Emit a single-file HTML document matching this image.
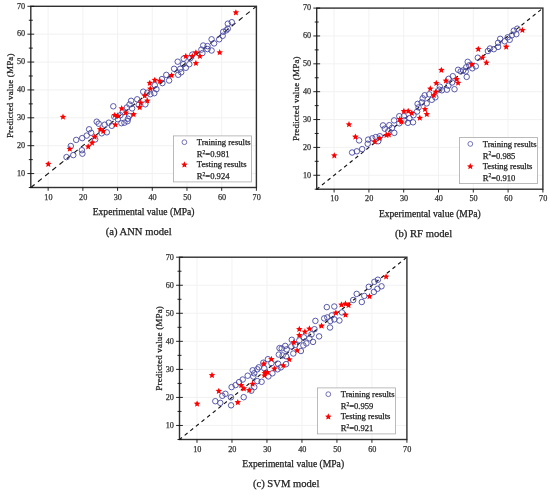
<!DOCTYPE html>
<html><head><meta charset="utf-8"><style>
html,body{margin:0;padding:0;background:#fff;}
svg{display:block;}
text{font-family:"Liberation Serif","Times New Roman",serif;}
</style></head><body>
<svg width="550" height="495" viewBox="0 0 550 495">
<rect width="550" height="495" fill="#fff"/>
<path d="M48.15 6.3V187.5M30.8 173.56H256.4M82.86 6.3V187.5M30.8 145.68H256.4M117.57 6.3V187.5M30.8 117.81H256.4M152.28 6.3V187.5M30.8 89.93H256.4M186.98 6.3V187.5M30.8 62.05H256.4M221.69 6.3V187.5M30.8 34.18H256.4" stroke="#f0f0f0" stroke-width="0.9" fill="none"/>
<path d="M30.8 187.5L256.4 6.3" stroke="#111" stroke-width="1.15" stroke-dasharray="4.9 4.3" stroke-dashoffset="0" fill="none"/>
<g fill="none" stroke="#4848a2" stroke-width="0.9"><circle cx="66.5" cy="157.1" r="2.75"/><circle cx="73.3" cy="155.1" r="2.75"/><circle cx="70.8" cy="146" r="2.75"/><circle cx="76.2" cy="139.9" r="2.75"/><circle cx="82.2" cy="138.1" r="2.75"/><circle cx="86.7" cy="135.6" r="2.75"/><circle cx="81.9" cy="150.2" r="2.75"/><circle cx="82.4" cy="153.7" r="2.75"/><circle cx="113.3" cy="106.3" r="2.75"/><circle cx="89.1" cy="129.3" r="2.75"/><circle cx="91.1" cy="132.8" r="2.75"/><circle cx="96.7" cy="121.7" r="2.75"/><circle cx="98.7" cy="123.7" r="2.75"/><circle cx="101.7" cy="133.3" r="2.75"/><circle cx="104.7" cy="124.7" r="2.75"/><circle cx="106.8" cy="132.3" r="2.75"/><circle cx="108.8" cy="122.7" r="2.75"/><circle cx="111.8" cy="125.8" r="2.75"/><circle cx="114.3" cy="116.7" r="2.75"/><circle cx="117.9" cy="119.2" r="2.75"/><circle cx="120.4" cy="115.2" r="2.75"/><circle cx="121.4" cy="123.2" r="2.75"/><circle cx="124.4" cy="122.7" r="2.75"/><circle cx="122.7" cy="112.2" r="2.75"/><circle cx="126.8" cy="107.5" r="2.75"/><circle cx="128" cy="118.7" r="2.75"/><circle cx="127.5" cy="121.2" r="2.75"/><circle cx="129.5" cy="104.5" r="2.75"/><circle cx="95.2" cy="139.4" r="2.75"/><circle cx="131.1" cy="100.8" r="2.75"/><circle cx="132.1" cy="108.4" r="2.75"/><circle cx="129.1" cy="116" r="2.75"/><circle cx="137.2" cy="99.3" r="2.75"/><circle cx="138.7" cy="104.8" r="2.75"/><circle cx="143.2" cy="91.7" r="2.75"/><circle cx="145.3" cy="104.3" r="2.75"/><circle cx="147.3" cy="92.7" r="2.75"/><circle cx="150.3" cy="94.2" r="2.75"/><circle cx="154.3" cy="93.2" r="2.75"/><circle cx="154.8" cy="85.2" r="2.75"/><circle cx="156.4" cy="89.2" r="2.75"/><circle cx="161.9" cy="79.1" r="2.75"/><circle cx="162.4" cy="83.1" r="2.75"/><circle cx="166.3" cy="74.9" r="2.75"/><circle cx="169.1" cy="80.5" r="2.75"/><circle cx="174.1" cy="68.8" r="2.75"/><circle cx="177.7" cy="61.7" r="2.75"/><circle cx="178.2" cy="74.8" r="2.75"/><circle cx="180.2" cy="68.8" r="2.75"/><circle cx="181.2" cy="72.3" r="2.75"/><circle cx="183.2" cy="64.2" r="2.75"/><circle cx="183.7" cy="58.7" r="2.75"/><circle cx="185.8" cy="67.8" r="2.75"/><circle cx="189.3" cy="64.2" r="2.75"/><circle cx="190.3" cy="58.2" r="2.75"/><circle cx="192.3" cy="54.6" r="2.75"/><circle cx="201.4" cy="49.6" r="2.75"/><circle cx="202.4" cy="53.1" r="2.75"/><circle cx="203.2" cy="45.5" r="2.75"/><circle cx="207.5" cy="46.1" r="2.75"/><circle cx="207.5" cy="49.1" r="2.75"/><circle cx="211.6" cy="50.5" r="2.75"/><circle cx="211.6" cy="39.3" r="2.75"/><circle cx="214.1" cy="43.4" r="2.75"/><circle cx="219.2" cy="39.3" r="2.75"/><circle cx="222.7" cy="35.8" r="2.75"/><circle cx="223.2" cy="31.8" r="2.75"/><circle cx="226.3" cy="30.3" r="2.75"/><circle cx="227.8" cy="28.7" r="2.75"/><circle cx="227.8" cy="23.7" r="2.75"/><circle cx="231.8" cy="22.2" r="2.75"/></g>
<path d="M48.3,160.65L49.23,162.82L51.58,163.03L49.81,164.59L50.33,166.89L48.3,165.69L46.27,166.89L46.79,164.59L45.02,163.03L47.37,162.82ZM63,113.55L63.93,115.72L66.28,115.93L64.51,117.49L65.03,119.79L63,118.59L60.97,119.79L61.49,117.49L59.72,115.93L62.07,115.72ZM69.8,145.55L70.73,147.72L73.08,147.93L71.31,149.49L71.83,151.79L69.8,150.59L67.77,151.79L68.29,149.49L66.52,147.93L68.87,147.72ZM88.2,143.15L89.13,145.32L91.48,145.53L89.71,147.09L90.23,149.39L88.2,148.19L86.17,149.39L86.69,147.09L84.92,145.53L87.27,145.32ZM92.1,139.45L93.03,141.62L95.38,141.83L93.61,143.39L94.13,145.69L92.1,144.49L90.07,145.69L90.59,143.39L88.82,141.83L91.17,141.62ZM94.6,133.45L95.53,135.62L97.88,135.83L96.11,137.39L96.63,139.69L94.6,138.49L92.57,139.69L93.09,137.39L91.32,135.83L93.67,135.62ZM100.2,125.85L101.13,128.02L103.48,128.23L101.71,129.79L102.23,132.09L100.2,130.89L98.17,132.09L98.69,129.79L96.92,128.23L99.27,128.02ZM103.2,127.85L104.13,130.02L106.48,130.23L104.71,131.79L105.23,134.09L103.2,132.89L101.17,134.09L101.69,131.79L99.92,130.23L102.27,130.02ZM114.8,111.75L115.73,113.92L118.08,114.13L116.31,115.69L116.83,117.99L114.8,116.79L112.77,117.99L113.29,115.69L111.52,114.13L113.87,113.92ZM117.4,112.25L118.33,114.42L120.68,114.63L118.91,116.19L119.43,118.49L117.4,117.29L115.37,118.49L115.89,116.19L114.12,114.63L116.47,114.42ZM115.4,121.25L116.33,123.42L118.68,123.63L116.91,125.19L117.43,127.49L115.4,126.29L113.37,127.49L113.89,125.19L112.12,123.63L114.47,123.42ZM121.7,105.05L122.63,107.22L124.98,107.43L123.21,108.99L123.73,111.29L121.7,110.09L119.67,111.29L120.19,108.99L118.42,107.43L120.77,107.22ZM125.8,109.35L126.73,111.52L129.08,111.73L127.31,113.29L127.83,115.59L125.8,114.39L123.77,115.59L124.29,113.29L122.52,111.73L124.87,111.52ZM133.6,110.95L134.53,113.12L136.88,113.33L135.11,114.89L135.63,117.19L133.6,115.99L131.57,117.19L132.09,114.89L130.32,113.33L132.67,113.12ZM139.7,103.95L140.63,106.12L142.98,106.33L141.21,107.89L141.73,110.19L139.7,108.99L137.67,110.19L138.19,107.89L136.42,106.33L138.77,106.12ZM140.7,99.35L141.63,101.52L143.98,101.73L142.21,103.29L142.73,105.59L140.7,104.39L138.67,105.59L139.19,103.29L137.42,101.73L139.77,101.52ZM144.7,92.35L145.63,94.52L147.98,94.73L146.21,96.29L146.73,98.59L144.7,97.39L142.67,98.59L143.19,96.29L141.42,94.73L143.77,94.52ZM147.3,97.35L148.23,99.52L150.58,99.73L148.81,101.29L149.33,103.59L147.3,102.39L145.27,103.59L145.79,101.29L144.02,99.73L146.37,99.52ZM149.8,79.65L150.73,81.82L153.08,82.03L151.31,83.59L151.83,85.89L149.8,84.69L147.77,85.89L148.29,83.59L146.52,82.03L148.87,81.82ZM150.3,85.25L151.23,87.42L153.58,87.63L151.81,89.19L152.33,91.49L150.3,90.29L148.27,91.49L148.79,89.19L147.02,87.63L149.37,87.42ZM154.8,76.65L155.73,78.82L158.08,79.03L156.31,80.59L156.83,82.89L154.8,81.69L152.77,82.89L153.29,80.59L151.52,79.03L153.87,78.82ZM159.9,77.65L160.83,79.82L163.18,80.03L161.41,81.59L161.93,83.89L159.9,82.69L157.87,83.89L158.39,81.59L156.62,80.03L158.97,79.82ZM171.6,71.95L172.53,74.12L174.88,74.33L173.11,75.89L173.63,78.19L171.6,76.99L169.57,78.19L170.09,75.89L168.32,74.33L170.67,74.12ZM185.8,52.75L186.73,54.92L189.08,55.13L187.31,56.69L187.83,58.99L185.8,57.79L183.77,58.99L184.29,56.69L182.52,55.13L184.87,54.92ZM192.3,52.75L193.23,54.92L195.58,55.13L193.81,56.69L194.33,58.99L192.3,57.79L190.27,58.99L190.79,56.69L189.02,55.13L191.37,54.92ZM195.9,49.15L196.83,51.32L199.18,51.53L197.41,53.09L197.93,55.39L195.9,54.19L193.87,55.39L194.39,53.09L192.62,51.53L194.97,51.32ZM199.9,52.75L200.83,54.92L203.18,55.13L201.41,56.69L201.93,58.99L199.9,57.79L197.87,58.99L198.39,56.69L196.62,55.13L198.97,54.92ZM195.9,59.75L196.83,61.92L199.18,62.13L197.41,63.69L197.93,65.99L195.9,64.79L193.87,65.99L194.39,63.69L192.62,62.13L194.97,61.92ZM235.9,9.15L236.83,11.32L239.18,11.53L237.41,13.09L237.93,15.39L235.9,14.19L233.87,15.39L234.39,13.09L232.62,11.53L234.97,11.32ZM219.7,49.05L220.63,51.22L222.98,51.43L221.21,52.99L221.73,55.29L219.7,54.09L217.67,55.29L218.19,52.99L216.42,51.43L218.77,51.22Z" fill="#ff0000"/>
<rect x="30.8" y="6.3" width="225.6" height="181.2" fill="none" stroke="#303030" stroke-width="1.4"/>
<path d="M28.8 187.5H32.8M27.4 173.56H34.2M48.15 187.5V190.8M28.8 159.62H32.8M27.4 145.68H34.2M82.86 187.5V190.8M28.8 131.75H32.8M27.4 117.81H34.2M117.57 187.5V190.8M28.8 103.87H32.8M27.4 89.93H34.2M152.28 187.5V190.8M28.8 75.99H32.8M27.4 62.05H34.2M186.98 187.5V190.8M28.8 48.12H32.8M27.4 34.18H34.2M221.69 187.5V190.8M28.8 20.24H32.8M27.4 6.3H34.2M256.4 187.5V190.8" stroke="#111" stroke-width="0.9" fill="none"/>
<g font-size="8.2" fill="#333" stroke="#333" stroke-width="0.25"><text x="25.2" y="175.86" text-anchor="end">10</text><text x="48.45" y="199.5" text-anchor="middle">10</text><text x="25.2" y="147.98" text-anchor="end">20</text><text x="83.16" y="199.5" text-anchor="middle">20</text><text x="25.2" y="120.11" text-anchor="end">30</text><text x="117.87" y="199.5" text-anchor="middle">30</text><text x="25.2" y="92.23" text-anchor="end">40</text><text x="152.58" y="199.5" text-anchor="middle">40</text><text x="25.2" y="64.35" text-anchor="end">50</text><text x="187.28" y="199.5" text-anchor="middle">50</text><text x="25.2" y="36.48" text-anchor="end">60</text><text x="221.99" y="199.5" text-anchor="middle">60</text><text x="25.2" y="8.6" text-anchor="end">70</text><text x="256.7" y="199.5" text-anchor="middle">70</text></g>
<text x="143.6" y="215" text-anchor="middle" font-size="9.6" fill="#222" stroke="#222" stroke-width="0.25">Experimental value (MPa)</text>
<text transform="translate(12.8 95.7) rotate(-90)" text-anchor="middle" font-size="9.0" letter-spacing="0.18" fill="#222" stroke="#222" stroke-width="0.25">Predicted value (MPa)</text>
<rect x="173.5" y="135.9" width="78" height="46" fill="#fff" stroke="#aaa" stroke-width="0.8"/>
<circle cx="184.4" cy="142.2" r="2.4" fill="none" stroke="#4848a2" stroke-width="0.75"/>
<path d="M184.4,161.35L185.33,163.52L187.68,163.73L185.91,165.29L186.43,167.59L184.4,166.39L182.37,167.59L182.89,165.29L181.12,163.73L183.47,163.52Z" fill="#ff0000"/>
<g font-size="8.6" fill="#222" stroke="#222" stroke-width="0.25"><text x="196.8" y="145.2">Training results</text><text x="196.8" y="156.9">R<tspan font-size="5.6" dy="-3.4">2</tspan><tspan dy="3.4">=0.981</tspan></text><text x="196.8" y="167.2">Testing results</text><text x="196.8" y="178.9">R<tspan font-size="5.6" dy="-3.4">2</tspan><tspan dy="3.4">=0.924</tspan></text></g>
<text x="138.7" y="235.3" text-anchor="middle" font-size="10.6" fill="#222" stroke="#222" stroke-width="0.25">(a) ANN model</text>
<path d="M334.1 8.1V189.2M316.7 175.27H542.9M368.9 8.1V189.2M316.7 147.41H542.9M403.7 8.1V189.2M316.7 119.55H542.9M438.5 8.1V189.2M316.7 91.68H542.9M473.3 8.1V189.2M316.7 63.82H542.9M508.1 8.1V189.2M316.7 35.96H542.9" stroke="#f0f0f0" stroke-width="0.9" fill="none"/>
<path d="M316.7 189.2L542.9 8.1" stroke="#111" stroke-width="1.15" stroke-dasharray="3.7 3.4" stroke-dashoffset="0.3" fill="none"/>
<g fill="none" stroke="#4848a2" stroke-width="0.9"><circle cx="352.1" cy="152.5" r="2.75"/><circle cx="356.8" cy="151.3" r="2.75"/><circle cx="362.2" cy="149.1" r="2.75"/><circle cx="359.1" cy="140.4" r="2.75"/><circle cx="367.7" cy="143.8" r="2.75"/><circle cx="368.2" cy="139.6" r="2.75"/><circle cx="372.3" cy="138.3" r="2.75"/><circle cx="375.7" cy="137.1" r="2.75"/><circle cx="378.2" cy="141.2" r="2.75"/><circle cx="383" cy="125.4" r="2.75"/><circle cx="384.8" cy="128.7" r="2.75"/><circle cx="389.3" cy="125.2" r="2.75"/><circle cx="388.3" cy="131.1" r="2.75"/><circle cx="392.1" cy="127.9" r="2.75"/><circle cx="394.1" cy="120.4" r="2.75"/><circle cx="394.3" cy="132.9" r="2.75"/><circle cx="399.3" cy="116.2" r="2.75"/><circle cx="399.3" cy="123.3" r="2.75"/><circle cx="403.9" cy="116.2" r="2.75"/><circle cx="404.4" cy="120.3" r="2.75"/><circle cx="407.9" cy="122.8" r="2.75"/><circle cx="409.4" cy="118.2" r="2.75"/><circle cx="413" cy="122.3" r="2.75"/><circle cx="413.5" cy="115.2" r="2.75"/><circle cx="379.8" cy="136.2" r="2.75"/><circle cx="417.1" cy="111.5" r="2.75"/><circle cx="418.6" cy="107.4" r="2.75"/><circle cx="417.6" cy="103.9" r="2.75"/><circle cx="421.7" cy="102.4" r="2.75"/><circle cx="422.7" cy="98.3" r="2.75"/><circle cx="424.7" cy="95.3" r="2.75"/><circle cx="426.7" cy="103.4" r="2.75"/><circle cx="429.2" cy="94.3" r="2.75"/><circle cx="431.8" cy="99.8" r="2.75"/><circle cx="435.3" cy="97.3" r="2.75"/><circle cx="439.8" cy="86.7" r="2.75"/><circle cx="439.3" cy="89.7" r="2.75"/><circle cx="441.9" cy="90.3" r="2.75"/><circle cx="446.9" cy="89.7" r="2.75"/><circle cx="448.4" cy="85.7" r="2.75"/><circle cx="448.7" cy="78.8" r="2.75"/><circle cx="452.8" cy="76.2" r="2.75"/><circle cx="454.5" cy="89.2" r="2.75"/><circle cx="477.8" cy="57.7" r="2.75"/><circle cx="487.9" cy="51" r="2.75"/><circle cx="490" cy="48.5" r="2.75"/><circle cx="493.8" cy="49.2" r="2.75"/><circle cx="467.7" cy="61.8" r="2.75"/><circle cx="469.2" cy="65.3" r="2.75"/><circle cx="475.8" cy="66.3" r="2.75"/><circle cx="472.3" cy="68.3" r="2.75"/><circle cx="466.2" cy="67.3" r="2.75"/><circle cx="463.2" cy="70.4" r="2.75"/><circle cx="458.1" cy="69.8" r="2.75"/><circle cx="460.7" cy="71.4" r="2.75"/><circle cx="465.7" cy="71.4" r="2.75"/><circle cx="466.7" cy="76.9" r="2.75"/><circle cx="452.1" cy="82.5" r="2.75"/><circle cx="498.1" cy="46.9" r="2.75"/><circle cx="498.1" cy="42.8" r="2.75"/><circle cx="500.2" cy="38.8" r="2.75"/><circle cx="504.7" cy="41.3" r="2.75"/><circle cx="507.7" cy="37.3" r="2.75"/><circle cx="509.7" cy="39.8" r="2.75"/><circle cx="511.8" cy="35.3" r="2.75"/><circle cx="513.8" cy="30.7" r="2.75"/><circle cx="516.3" cy="34.2" r="2.75"/><circle cx="517.3" cy="28.7" r="2.75"/></g>
<path d="M334.3,152.15L335.23,154.32L337.58,154.53L335.81,156.09L336.33,158.39L334.3,157.19L332.27,158.39L332.79,156.09L331.02,154.53L333.37,154.32ZM349,121.05L349.93,123.22L352.28,123.43L350.51,124.99L351.03,127.29L349,126.09L346.97,127.29L347.49,124.99L345.72,123.43L348.07,123.22ZM355.4,133.45L356.33,135.62L358.68,135.83L356.91,137.39L357.43,139.69L355.4,138.49L353.37,139.69L353.89,137.39L352.12,135.83L354.47,135.62ZM374.8,138.35L375.73,140.52L378.08,140.73L376.31,142.29L376.83,144.59L374.8,143.39L372.77,144.59L373.29,142.29L371.52,140.73L373.87,140.52ZM379.8,134.75L380.73,136.92L383.08,137.13L381.31,138.69L381.83,140.99L379.8,139.79L377.77,140.99L378.29,138.69L376.52,137.13L378.87,136.92ZM386.4,131.75L387.33,133.92L389.68,134.13L387.91,135.69L388.43,137.99L386.4,136.79L384.37,137.99L384.89,135.69L383.12,134.13L385.47,133.92ZM388.9,131.25L389.83,133.42L392.18,133.63L390.41,135.19L390.93,137.49L388.9,136.29L386.87,137.49L387.39,135.19L385.62,133.63L387.97,133.42ZM399.8,115.75L400.73,117.92L403.08,118.13L401.31,119.69L401.83,121.99L399.8,120.79L397.77,121.99L398.29,119.69L396.52,118.13L398.87,117.92ZM401.4,118.35L402.33,120.52L404.68,120.73L402.91,122.29L403.43,124.59L401.4,123.39L399.37,124.59L399.89,122.29L398.12,120.73L400.47,120.52ZM403.9,107.75L404.83,109.92L407.18,110.13L405.41,111.69L405.93,113.99L403.9,112.79L401.87,113.99L402.39,111.69L400.62,110.13L402.97,109.92ZM408.2,107.65L409.13,109.82L411.48,110.03L409.71,111.59L410.23,113.89L408.2,112.69L406.17,113.89L406.69,111.59L404.92,110.03L407.27,109.82ZM411.8,109.65L412.73,111.82L415.08,112.03L413.31,113.59L413.83,115.89L411.8,114.69L409.77,115.89L410.29,113.59L408.52,112.03L410.87,111.82ZM441.4,66.65L442.33,68.82L444.68,69.03L442.91,70.59L443.43,72.89L441.4,71.69L439.37,72.89L439.89,70.59L438.12,69.03L440.47,68.82ZM445.9,77.35L446.83,79.52L449.18,79.73L447.41,81.29L447.93,83.59L445.9,82.39L443.87,83.59L444.39,81.29L442.62,79.73L444.97,79.52ZM436.3,79.75L437.23,81.92L439.58,82.13L437.81,83.69L438.33,85.99L436.3,84.79L434.27,85.99L434.79,83.69L433.02,82.13L435.37,81.92ZM430.3,85.25L431.23,87.42L433.58,87.63L431.81,89.19L432.33,91.49L430.3,90.29L428.27,91.49L428.79,89.19L427.02,87.63L429.37,87.42ZM435.8,88.35L436.73,90.52L439.08,90.73L437.31,92.29L437.83,94.59L435.8,93.39L433.77,94.59L434.29,92.29L432.52,90.73L434.87,90.52ZM433.8,91.85L434.73,94.02L437.08,94.23L435.31,95.79L435.83,98.09L433.8,96.89L431.77,98.09L432.29,95.79L430.52,94.23L432.87,94.02ZM425,105.85L425.93,108.02L428.28,108.23L426.51,109.79L427.03,112.09L425,110.89L422.97,112.09L423.49,109.79L421.72,108.23L424.07,108.02ZM426.8,110.85L427.73,113.02L430.08,113.23L428.31,114.79L428.83,117.09L426.8,115.89L424.77,117.09L425.29,114.79L423.52,113.23L425.87,113.02ZM419.8,114.55L420.73,116.72L423.08,116.93L421.31,118.49L421.83,120.79L419.8,119.59L417.77,120.79L418.29,118.49L416.52,116.93L418.87,116.72ZM478.3,45.65L479.23,47.82L481.58,48.03L479.81,49.59L480.33,51.89L478.3,50.69L476.27,51.89L476.79,49.59L475.02,48.03L477.37,47.82ZM482.4,54.25L483.33,56.42L485.68,56.63L483.91,58.19L484.43,60.49L482.4,59.29L480.37,60.49L480.89,58.19L479.12,56.63L481.47,56.42ZM486.4,59.35L487.33,61.52L489.68,61.73L487.91,63.29L488.43,65.59L486.4,64.39L484.37,65.59L484.89,63.29L483.12,61.73L485.47,61.52ZM471.8,60.85L472.73,63.02L475.08,63.23L473.31,64.79L473.83,67.09L471.8,65.89L469.77,67.09L470.29,64.79L468.52,63.23L470.87,63.02ZM456.6,75.95L457.53,78.12L459.88,78.33L458.11,79.89L458.63,82.19L456.6,80.99L454.57,82.19L455.09,79.89L453.32,78.33L455.67,78.12ZM458.1,79.55L459.03,81.72L461.38,81.93L459.61,83.49L460.13,85.79L458.1,84.59L456.07,85.79L456.59,83.49L454.82,81.93L457.17,81.72ZM506.2,43.45L507.13,45.62L509.48,45.83L507.71,47.39L508.23,49.69L506.2,48.49L504.17,49.69L504.69,47.39L502.92,45.83L505.27,45.62ZM522.4,26.75L523.33,28.92L525.68,29.13L523.91,30.69L524.43,32.99L522.4,31.79L520.37,32.99L520.89,30.69L519.12,29.13L521.47,28.92Z" fill="#ff0000"/>
<rect x="316.7" y="8.1" width="226.2" height="181.1" fill="none" stroke="#303030" stroke-width="1.4"/>
<path d="M314.7 189.2H318.7M313.3 175.27H320.1M334.1 189.2V192.5M314.7 161.34H318.7M313.3 147.41H320.1M368.9 189.2V192.5M314.7 133.48H318.7M313.3 119.55H320.1M403.7 189.2V192.5M314.7 105.62H318.7M313.3 91.68H320.1M438.5 189.2V192.5M314.7 77.75H318.7M313.3 63.82H320.1M473.3 189.2V192.5M314.7 49.89H318.7M313.3 35.96H320.1M508.1 189.2V192.5M314.7 22.03H318.7M313.3 8.1H320.1M542.9 189.2V192.5" stroke="#111" stroke-width="0.9" fill="none"/>
<g font-size="8.2" fill="#333" stroke="#333" stroke-width="0.25"><text x="311.1" y="177.57" text-anchor="end">10</text><text x="334.4" y="201.2" text-anchor="middle">10</text><text x="311.1" y="149.71" text-anchor="end">20</text><text x="369.2" y="201.2" text-anchor="middle">20</text><text x="311.1" y="121.85" text-anchor="end">30</text><text x="404" y="201.2" text-anchor="middle">30</text><text x="311.1" y="93.98" text-anchor="end">40</text><text x="438.8" y="201.2" text-anchor="middle">40</text><text x="311.1" y="66.12" text-anchor="end">50</text><text x="473.6" y="201.2" text-anchor="middle">50</text><text x="311.1" y="38.26" text-anchor="end">60</text><text x="508.4" y="201.2" text-anchor="middle">60</text><text x="311.1" y="10.4" text-anchor="end">70</text><text x="543.2" y="201.2" text-anchor="middle">70</text></g>
<text x="429.8" y="216.7" text-anchor="middle" font-size="9.6" fill="#222" stroke="#222" stroke-width="0.25">Experimental value (MPa)</text>
<text transform="translate(298.7 98.65) rotate(-90)" text-anchor="middle" font-size="9.0" letter-spacing="0.18" fill="#222" stroke="#222" stroke-width="0.25">Predicted value (MPa)</text>
<rect x="459.4" y="137.6" width="78" height="46" fill="#fff" stroke="#aaa" stroke-width="0.8"/>
<circle cx="470.3" cy="143.9" r="2.4" fill="none" stroke="#4848a2" stroke-width="0.75"/>
<path d="M470.3,163.05L471.23,165.22L473.58,165.43L471.81,166.99L472.33,169.29L470.3,168.09L468.27,169.29L468.79,166.99L467.02,165.43L469.37,165.22Z" fill="#ff0000"/>
<g font-size="8.6" fill="#222" stroke="#222" stroke-width="0.25"><text x="482.7" y="146.9">Training results</text><text x="482.7" y="158.6">R<tspan font-size="5.6" dy="-3.4">2</tspan><tspan dy="3.4">=0.985</tspan></text><text x="482.7" y="168.9">Testing results</text><text x="482.7" y="180.6">R<tspan font-size="5.6" dy="-3.4">2</tspan><tspan dy="3.4">=0.910</tspan></text></g>
<text x="423.6" y="237" text-anchor="middle" font-size="10.6" fill="#222" stroke="#222" stroke-width="0.25">(b) RF model</text>
<path d="M196.99 257.2V439.5M179.5 425.48H406.9M231.98 257.2V439.5M179.5 397.43H406.9M266.96 257.2V439.5M179.5 369.38H406.9M301.95 257.2V439.5M179.5 341.34H406.9M336.93 257.2V439.5M179.5 313.29H406.9M371.92 257.2V439.5M179.5 285.25H406.9" stroke="#f0f0f0" stroke-width="0.9" fill="none"/>
<path d="M179.5 439.5L406.9 257.2" stroke="#111" stroke-width="1.15" stroke-dasharray="3.7 3.5" stroke-dashoffset="0.6" fill="none"/>
<g fill="none" stroke="#4848a2" stroke-width="0.9"><circle cx="215.3" cy="401.2" r="2.75"/><circle cx="220.3" cy="402.9" r="2.75"/><circle cx="222.3" cy="395.8" r="2.75"/><circle cx="225.4" cy="393.8" r="2.75"/><circle cx="230.9" cy="397.3" r="2.75"/><circle cx="231.1" cy="405.3" r="2.75"/><circle cx="243.7" cy="397.2" r="2.75"/><circle cx="231.6" cy="387.1" r="2.75"/><circle cx="235.6" cy="385.1" r="2.75"/><circle cx="239.1" cy="382.1" r="2.75"/><circle cx="242.7" cy="379.5" r="2.75"/><circle cx="247.7" cy="375.7" r="2.75"/><circle cx="253.3" cy="376.5" r="2.75"/><circle cx="257.3" cy="381.1" r="2.75"/><circle cx="261.6" cy="381.8" r="2.75"/><circle cx="254.3" cy="387.1" r="2.75"/><circle cx="251.3" cy="390.7" r="2.75"/><circle cx="252.7" cy="370.3" r="2.75"/><circle cx="254.2" cy="373.3" r="2.75"/><circle cx="257.3" cy="369.3" r="2.75"/><circle cx="258.8" cy="367.3" r="2.75"/><circle cx="263.3" cy="362.7" r="2.75"/><circle cx="264.3" cy="368.3" r="2.75"/><circle cx="267.9" cy="359.2" r="2.75"/><circle cx="268.4" cy="376.4" r="2.75"/><circle cx="271.4" cy="363.2" r="2.75"/><circle cx="272.4" cy="373.3" r="2.75"/><circle cx="278.8" cy="354.6" r="2.75"/><circle cx="282.6" cy="355.4" r="2.75"/><circle cx="286.1" cy="356.3" r="2.75"/><circle cx="278" cy="363.7" r="2.75"/><circle cx="286.1" cy="364.1" r="2.75"/><circle cx="280.8" cy="367.4" r="2.75"/><circle cx="279.5" cy="348.1" r="2.75"/><circle cx="277.5" cy="369.3" r="2.75"/><circle cx="281.7" cy="348.4" r="2.75"/><circle cx="285.2" cy="345.9" r="2.75"/><circle cx="286.7" cy="349.4" r="2.75"/><circle cx="291.3" cy="346.4" r="2.75"/><circle cx="291.8" cy="339.8" r="2.75"/><circle cx="293.3" cy="353.5" r="2.75"/><circle cx="295.3" cy="344.9" r="2.75"/><circle cx="299.3" cy="340.4" r="2.75"/><circle cx="300.9" cy="351" r="2.75"/><circle cx="303.4" cy="345.4" r="2.75"/><circle cx="303.9" cy="337.3" r="2.75"/><circle cx="306.4" cy="343.4" r="2.75"/><circle cx="309.4" cy="338.3" r="2.75"/><circle cx="311.5" cy="334.3" r="2.75"/><circle cx="313" cy="341.9" r="2.75"/><circle cx="314.5" cy="329.2" r="2.75"/><circle cx="315.4" cy="320.9" r="2.75"/><circle cx="326.8" cy="307.1" r="2.75"/><circle cx="334.3" cy="306.5" r="2.75"/><circle cx="330" cy="327.5" r="2.75"/><circle cx="319.1" cy="336.4" r="2.75"/><circle cx="324.2" cy="318.4" r="2.75"/><circle cx="327.3" cy="317.4" r="2.75"/><circle cx="330.3" cy="321" r="2.75"/><circle cx="331.8" cy="315.4" r="2.75"/><circle cx="334.3" cy="319.4" r="2.75"/><circle cx="339.4" cy="320.5" r="2.75"/><circle cx="341.9" cy="312.4" r="2.75"/><circle cx="353.2" cy="300" r="2.75"/><circle cx="356.7" cy="293.9" r="2.75"/><circle cx="361.8" cy="302" r="2.75"/><circle cx="364.3" cy="295.9" r="2.75"/><circle cx="368.8" cy="286.8" r="2.75"/><circle cx="373.9" cy="291.9" r="2.75"/><circle cx="374.4" cy="281.8" r="2.75"/><circle cx="377.9" cy="279.7" r="2.75"/><circle cx="377.4" cy="288.8" r="2.75"/><circle cx="381.5" cy="286.3" r="2.75"/></g>
<path d="M197.1,400.45L198.03,402.62L200.38,402.83L198.61,404.39L199.13,406.69L197.1,405.49L195.07,406.69L195.59,404.39L193.82,402.83L196.17,402.62ZM212,371.85L212.93,374.02L215.28,374.23L213.51,375.79L214.03,378.09L212,376.89L209.97,378.09L210.49,375.79L208.72,374.23L211.07,374.02ZM218.8,387.65L219.73,389.82L222.08,390.03L220.31,391.59L220.83,393.89L218.8,392.69L216.77,393.89L217.29,391.59L215.52,390.03L217.87,389.82ZM237.8,398.95L238.73,401.12L241.08,401.33L239.31,402.89L239.83,405.19L237.8,403.99L235.77,405.19L236.29,402.89L234.52,401.33L236.87,401.12ZM241.2,381.85L242.13,384.02L244.48,384.23L242.71,385.79L243.23,388.09L241.2,386.89L239.17,388.09L239.69,385.79L237.92,384.23L240.27,384.02ZM243.9,385.15L244.83,387.32L247.18,387.53L245.41,389.09L245.93,391.39L243.9,390.19L241.87,391.39L242.39,389.09L240.62,387.53L242.97,387.32ZM249.2,386.75L250.13,388.92L252.48,389.13L250.71,390.69L251.23,392.99L249.2,391.79L247.17,392.99L247.69,390.69L245.92,389.13L248.27,388.92ZM252.5,380.55L253.43,382.72L255.78,382.93L254.01,384.49L254.53,386.79L252.5,385.59L250.47,386.79L250.99,384.49L249.22,382.93L251.57,382.72ZM264.4,372.05L265.33,374.22L267.68,374.43L265.91,375.99L266.43,378.29L264.4,377.09L262.37,378.29L262.89,375.99L261.12,374.43L263.47,374.22ZM263.8,360.25L264.73,362.42L267.08,362.63L265.31,364.19L265.83,366.49L263.8,365.29L261.77,366.49L262.29,364.19L260.52,362.63L262.87,362.42ZM264.8,369.85L265.73,372.02L268.08,372.23L266.31,373.79L266.83,376.09L264.8,374.89L262.77,376.09L263.29,373.79L261.52,372.23L263.87,372.02ZM267.4,368.85L268.33,371.02L270.68,371.23L268.91,372.79L269.43,375.09L267.4,373.89L265.37,375.09L265.89,372.79L264.12,371.23L266.47,371.02ZM271.4,355.75L272.33,357.92L274.68,358.13L272.91,359.69L273.43,361.99L271.4,360.79L269.37,361.99L269.89,359.69L268.12,358.13L270.47,357.92ZM274.4,365.35L275.33,367.52L277.68,367.73L275.91,369.29L276.43,371.59L274.4,370.39L272.37,371.59L272.89,369.29L271.12,367.73L273.47,367.52ZM293.8,338.95L294.73,341.12L297.08,341.33L295.31,342.89L295.83,345.19L293.8,343.99L291.77,345.19L292.29,342.89L290.52,341.33L292.87,341.12ZM297.1,347.05L298.03,349.22L300.38,349.43L298.61,350.99L299.13,353.29L297.1,352.09L295.07,353.29L295.59,350.99L293.82,349.43L296.17,349.22ZM289.3,356.05L290.23,358.22L292.58,358.43L290.81,359.99L291.33,362.29L289.3,361.09L287.27,362.29L287.79,359.99L286.02,358.43L288.37,358.22ZM283.3,362.05L284.23,364.22L286.58,364.43L284.81,365.99L285.33,368.29L283.3,367.09L281.27,368.29L281.79,365.99L280.02,364.43L282.37,364.22ZM299.3,325.75L300.23,327.92L302.58,328.13L300.81,329.69L301.33,331.99L299.3,330.79L297.27,331.99L297.79,329.69L296.02,328.13L298.37,327.92ZM299.3,331.85L300.23,334.02L302.58,334.23L300.81,335.79L301.33,338.09L299.3,336.89L297.27,338.09L297.79,335.79L296.02,334.23L298.37,334.02ZM304.9,328.35L305.83,330.52L308.18,330.73L306.41,332.29L306.93,334.59L304.9,333.39L302.87,334.59L303.39,332.29L301.62,330.73L303.97,330.52ZM309.4,325.25L310.33,327.42L312.68,327.63L310.91,329.19L311.43,331.49L309.4,330.29L307.37,331.49L307.89,329.19L306.12,327.63L308.47,327.42ZM335.9,309.45L336.83,311.62L339.18,311.83L337.41,313.39L337.93,315.69L335.9,314.49L333.87,315.69L334.39,313.39L332.62,311.83L334.97,311.62ZM341.4,301.35L342.33,303.52L344.68,303.73L342.91,305.29L343.43,307.59L341.4,306.39L339.37,307.59L339.89,305.29L338.12,303.73L340.47,303.52ZM345.5,300.35L346.43,302.52L348.78,302.73L347.01,304.29L347.53,306.59L345.5,305.39L343.47,306.59L343.99,304.29L342.22,302.73L344.57,302.52ZM348.5,301.85L349.43,304.02L351.78,304.23L350.01,305.79L350.53,308.09L348.5,306.89L346.47,308.09L346.99,305.79L345.22,304.23L347.57,304.02ZM345.5,311.45L346.43,313.62L348.78,313.83L347.01,315.39L347.53,317.69L345.5,316.49L343.47,317.69L343.99,315.39L342.22,313.83L344.57,313.62ZM321.6,322.45L322.53,324.62L324.88,324.83L323.11,326.39L323.63,328.69L321.6,327.49L319.57,328.69L320.09,326.39L318.32,324.83L320.67,324.62ZM369.5,292.95L370.43,295.12L372.78,295.33L371.01,296.89L371.53,299.19L369.5,297.99L367.47,299.19L367.99,296.89L366.22,295.33L368.57,295.12ZM386.1,273.25L387.03,275.42L389.38,275.63L387.61,277.19L388.13,279.49L386.1,278.29L384.07,279.49L384.59,277.19L382.82,275.63L385.17,275.42Z" fill="#ff0000"/>
<rect x="179.5" y="257.2" width="227.4" height="182.3" fill="none" stroke="#303030" stroke-width="1.4"/>
<path d="M177.5 439.5H181.5M176.1 425.48H182.9M196.99 439.5V442.8M177.5 411.45H181.5M176.1 397.43H182.9M231.98 439.5V442.8M177.5 383.41H181.5M176.1 369.38H182.9M266.96 439.5V442.8M177.5 355.36H181.5M176.1 341.34H182.9M301.95 439.5V442.8M177.5 327.32H181.5M176.1 313.29H182.9M336.93 439.5V442.8M177.5 299.27H181.5M176.1 285.25H182.9M371.92 439.5V442.8M177.5 271.22H181.5M176.1 257.2H182.9M406.9 439.5V442.8" stroke="#111" stroke-width="0.9" fill="none"/>
<g font-size="8.2" fill="#333" stroke="#333" stroke-width="0.25"><text x="173.9" y="427.78" text-anchor="end">10</text><text x="197.29" y="451.5" text-anchor="middle">10</text><text x="173.9" y="399.73" text-anchor="end">20</text><text x="232.28" y="451.5" text-anchor="middle">20</text><text x="173.9" y="371.68" text-anchor="end">30</text><text x="267.26" y="451.5" text-anchor="middle">30</text><text x="173.9" y="343.64" text-anchor="end">40</text><text x="302.25" y="451.5" text-anchor="middle">40</text><text x="173.9" y="315.59" text-anchor="end">50</text><text x="337.23" y="451.5" text-anchor="middle">50</text><text x="173.9" y="287.55" text-anchor="end">60</text><text x="372.22" y="451.5" text-anchor="middle">60</text><text x="173.9" y="259.5" text-anchor="end">70</text><text x="407.2" y="451.5" text-anchor="middle">70</text></g>
<text x="293.2" y="467" text-anchor="middle" font-size="9.6" fill="#222" stroke="#222" stroke-width="0.25">Experimental value (MPa)</text>
<text transform="translate(161.5 348.35) rotate(-90)" text-anchor="middle" font-size="9.0" letter-spacing="0.18" fill="#222" stroke="#222" stroke-width="0.25">Predicted value (MPa)</text>
<rect x="317.4" y="387.9" width="78" height="46" fill="#fff" stroke="#aaa" stroke-width="0.8"/>
<circle cx="328.3" cy="394.2" r="2.4" fill="none" stroke="#4848a2" stroke-width="0.75"/>
<path d="M328.3,413.35L329.23,415.52L331.58,415.73L329.81,417.29L330.33,419.59L328.3,418.39L326.27,419.59L326.79,417.29L325.02,415.73L327.37,415.52Z" fill="#ff0000"/>
<g font-size="8.6" fill="#222" stroke="#222" stroke-width="0.25"><text x="340.7" y="397.2">Training results</text><text x="340.7" y="408.9">R<tspan font-size="5.6" dy="-3.4">2</tspan><tspan dy="3.4">=0.959</tspan></text><text x="340.7" y="419.2">Testing results</text><text x="340.7" y="430.9">R<tspan font-size="5.6" dy="-3.4">2</tspan><tspan dy="3.4">=0.921</tspan></text></g>
<text x="286.2" y="487.3" text-anchor="middle" font-size="10.6" fill="#222" stroke="#222" stroke-width="0.25">(c) SVM model</text>
</svg>
</body></html>
